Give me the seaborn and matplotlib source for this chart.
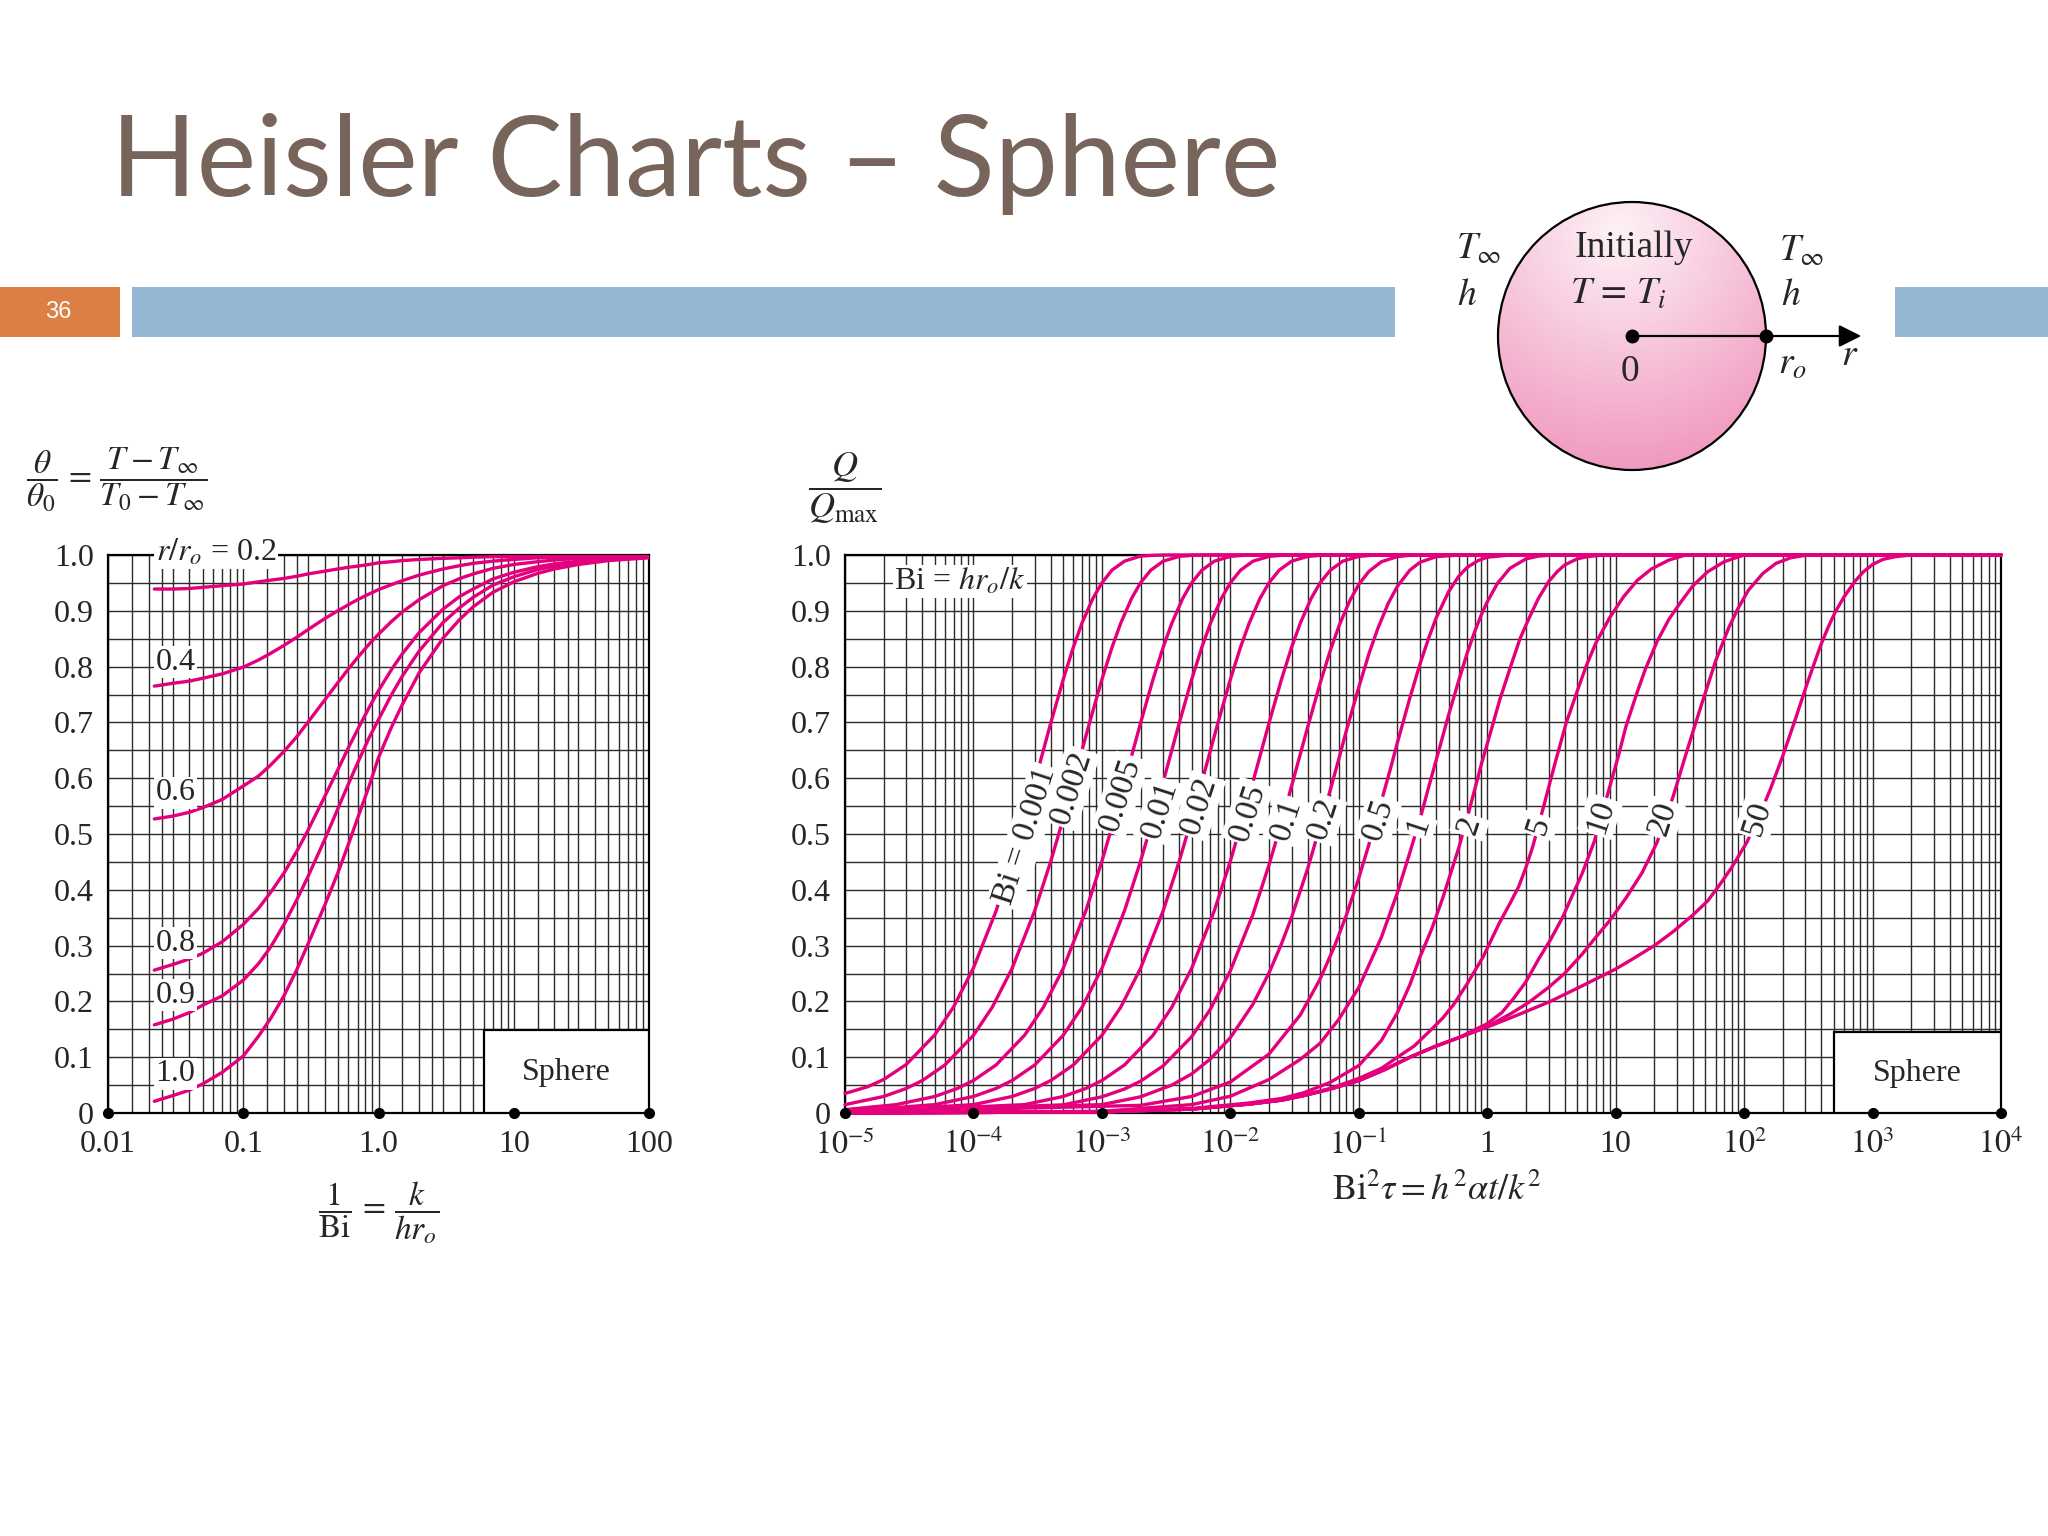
import numpy as np
import pandas as pd
import matplotlib
matplotlib.use("Agg")
import matplotlib.pyplot as plt
import matplotlib.ticker as mticker
import matplotlib.colors as mcolors
from matplotlib.patches import Rectangle, Circle
import seaborn as sns

sns.set_theme(style="white")
plt.rcParams['font.family'] = ['Liberation Serif', 'DejaVu Serif']
plt.rcParams['mathtext.fontset'] = 'stix'

MAGENTA = '#E4007C'
GRID = '#2b2b2b'

# ---- left chart: theta/theta0 vs 1/Bi, one curve per r/ro ----
inv_bi = [0.022, 0.03, 0.04, 0.05, 0.07, 0.1, 0.13, 0.16, 0.2, 0.25, 0.3, 0.4, 0.5, 0.6, 0.7,
          0.85, 1, 1.25, 1.5, 2, 3, 4, 5, 7, 10, 15, 20, 30, 50, 100]
theta_r02 = [0.939, 0.939, 0.940, 0.942, 0.945, 0.948, 0.952, 0.955, 0.958, 0.962, 0.966, 0.971, 0.975, 0.978, 0.980,
             0.983, 0.986, 0.988, 0.990, 0.992, 0.994, 0.995, 0.996, 0.997, 0.997, 0.998, 0.998, 0.998, 0.998, 0.998]
theta_r04 = [0.765, 0.770, 0.774, 0.779, 0.787, 0.799, 0.812, 0.824, 0.838, 0.853, 0.866, 0.886, 0.900, 0.911, 0.920,
             0.930, 0.938, 0.947, 0.954, 0.964, 0.975, 0.981, 0.985, 0.989, 0.992, 0.995, 0.996, 0.997, 0.998, 0.999]
theta_r06 = [0.527, 0.532, 0.539, 0.547, 0.562, 0.586, 0.604, 0.624, 0.648, 0.675, 0.700, 0.740, 0.771, 0.796, 0.816,
             0.840, 0.858, 0.881, 0.898, 0.920, 0.945, 0.958, 0.966, 0.976, 0.983, 0.988, 0.991, 0.994, 0.996, 0.998]
theta_r08 = [0.256, 0.266, 0.276, 0.286, 0.307, 0.338, 0.367, 0.396, 0.430, 0.470, 0.506, 0.567, 0.615, 0.655, 0.687,
             0.726, 0.757, 0.795, 0.823, 0.861, 0.903, 0.926, 0.939, 0.957, 0.969, 0.979, 0.984, 0.989, 0.994, 0.997]
theta_r09 = [0.158, 0.168, 0.180, 0.193, 0.210, 0.238, 0.268, 0.298, 0.338, 0.383, 0.423, 0.490, 0.545, 0.590, 0.627,
             0.672, 0.705, 0.750, 0.783, 0.828, 0.879, 0.906, 0.924, 0.946, 0.961, 0.974, 0.980, 0.987, 0.992, 0.996]
theta_r10 = [0.021, 0.031, 0.041, 0.052, 0.073, 0.102, 0.138, 0.170, 0.210, 0.258, 0.302, 0.372, 0.430, 0.482, 0.528,
             0.585, 0.637, 0.692, 0.732, 0.789, 0.851, 0.885, 0.907, 0.933, 0.952, 0.967, 0.975, 0.983, 0.990, 0.995]
r_labels = ['$r/r_o$ = 0.2', '0.4', '0.6', '0.8', '0.9', '1.0']
r_label_y = [1.005, 0.808, 0.574, 0.304, 0.211, 0.070]

# ---- right chart: Q/Qmax vs Bi^2 tau, one curve per Bi ----
q_bi_0001 = ([1e-5, 1.5e-5, 2e-5, 3e-5, 5e-5, 7e-5, 1e-4, 1.5e-4, 2e-4, 2.5e-4, 3e-4, 4e-4, 5e-4, 6e-4, 7e-4,
              8.5e-4, 1e-3, 1.2e-3, 1.5e-3, 2e-3, 2.5e-3, 3e-3, 1e4],
             [0.035, 0.047, 0.06, 0.087, 0.14, 0.19, 0.26, 0.362, 0.451, 0.528, 0.593, 0.699, 0.777, 0.835, 0.878,
              0.922, 0.95, 0.973, 0.989, 0.998, 0.9994, 1.0, 1.0])
q_bi_0002 = ([1e-5, 2e-5, 3e-5, 4e-5, 6e-5, 1e-4, 1.4e-4, 2e-4, 3e-4, 4e-4, 5e-4, 6e-4, 8e-4, 1e-3, 1.2e-3,
              1.4e-3, 1.7e-3, 2e-3, 2.4e-3, 3e-3, 4e-3, 5e-3, 6e-3, 1e4],
             [0.015, 0.0296, 0.044, 0.0582, 0.0861, 0.1393, 0.1894, 0.2592, 0.3624, 0.4512, 0.5276, 0.5934, 0.6988,
              0.7769, 0.8347, 0.8775, 0.9219, 0.9502, 0.9727, 0.9889, 0.9975, 0.9994, 1.0, 1.0])
q_bi_0005 = ([1e-5, 2.5e-5, 5e-5, 7.5e-5, 1e-4, 1.5e-4, 2.5e-4, 3.5e-4, 5e-4, 7.5e-4, 1e-3, 1.25e-3, 1.5e-3, 2e-3,
              2.5e-3, 3e-3, 3.5e-3, 4.25e-3, 5e-3, 6e-3, 7.5e-3, 1e-2, 1.25e-2, 1.5e-2, 1e4],
             [0.006, 0.015, 0.0296, 0.044, 0.0582, 0.0861, 0.1393, 0.1894, 0.2592, 0.3624, 0.4512, 0.5276, 0.5934,
              0.6988, 0.7769, 0.8347, 0.8775, 0.9219, 0.9502, 0.9727, 0.9889, 0.9975, 0.9994, 1.0, 1.0])
q_bi_001 = ([1e-5, 5e-5, 1e-4, 1.5e-4, 2e-4, 3e-4, 5e-4, 7e-4, 1e-3, 1.5e-3, 2e-3, 2.5e-3, 3e-3, 4e-3, 5e-3,
             6e-3, 7e-3, 8.5e-3, 1e-2, 1.2e-2, 1.5e-2, 2e-2, 2.5e-2, 3e-2, 1e4],
            [0.003, 0.015, 0.0296, 0.044, 0.0582, 0.0861, 0.1393, 0.1894, 0.2592, 0.3624, 0.4512, 0.5276, 0.5934,
             0.6988, 0.7769, 0.8347, 0.8775, 0.9219, 0.9502, 0.9727, 0.9889, 0.9975, 0.9994, 1.0, 1.0])
q_bi_002 = ([1e-5, 1e-4, 2e-4, 3e-4, 4e-4, 6e-4, 1e-3, 1.4e-3, 2e-3, 3e-3, 4e-3, 5e-3, 6e-3, 8e-3, 1e-2,
             1.2e-2, 1.4e-2, 1.7e-2, 2e-2, 2.4e-2, 3e-2, 4e-2, 5e-2, 6e-2, 1e4],
            [0.0015, 0.015, 0.0296, 0.044, 0.0582, 0.0861, 0.1393, 0.1894, 0.2592, 0.3624, 0.4512, 0.5276, 0.5934,
             0.6988, 0.7769, 0.8347, 0.8775, 0.9219, 0.9502, 0.9727, 0.9889, 0.9975, 0.9994, 1.0, 1.0])
q_bi_005 = ([1e-5, 2.5e-4, 5e-4, 7.5e-4, 1e-3, 1.5e-3, 2.5e-3, 3.5e-3, 5e-3, 7.5e-3, 1e-2, 1.25e-2, 1.5e-2, 2e-2,
             2.5e-2, 3e-2, 3.5e-2, 4.25e-2, 5e-2, 6e-2, 7.5e-2, 0.1, 0.125, 0.15, 1e4],
            [0.0006, 0.015, 0.0296, 0.044, 0.0582, 0.0861, 0.1393, 0.1894, 0.2592, 0.3624, 0.4512, 0.5276, 0.5934,
             0.6988, 0.7769, 0.8347, 0.8775, 0.9219, 0.9502, 0.9727, 0.9889, 0.9975, 0.9994, 1.0, 1.0])
q_bi_01 = ([1e-5, 5e-4, 1e-3, 1.5e-3, 2e-3, 3e-3, 5e-3, 7e-3, 1e-2, 1.5e-2, 2e-2, 2.5e-2, 3e-2, 4e-2, 5e-2,
            6e-2, 7e-2, 8.5e-2, 0.1, 0.12, 0.15, 0.2, 0.25, 0.3, 1e4],
           [0.0003, 0.0146, 0.029, 0.043, 0.057, 0.0845, 0.1368, 0.1862, 0.2548, 0.3561, 0.4446, 0.5205, 0.5862,
            0.6916, 0.7701, 0.8288, 0.8724, 0.9179, 0.9472, 0.9707, 0.9879, 0.9972, 0.9994, 1.0, 1.0])
q_bi_02 = ([1e-5, 1e-3, 2e-3, 3.5e-3, 5e-3, 7e-3, 1e-2, 1.5e-2, 2e-2, 2.5e-2, 3e-2, 4e-2, 5e-2, 6e-2, 7e-2,
            8e-2, 0.1, 0.12, 0.14, 0.17, 0.2, 0.25, 0.3, 0.4, 0.6, 1e4],
           [0.0008, 0.015, 0.029, 0.05, 0.07, 0.097, 0.135, 0.195, 0.251, 0.303, 0.351, 0.438, 0.514, 0.579, 0.635,
            0.685, 0.763, 0.823, 0.867, 0.914, 0.944, 0.973, 0.987, 0.997, 1.0, 1.0])
q_bi_05 = ([1e-5, 2e-3, 5e-3, 1e-2, 2e-2, 3.5e-2, 5e-2, 6.5e-2, 8e-2, 0.1, 0.125, 0.15, 0.175, 0.2, 0.25,
            0.3, 0.35, 0.4, 0.5, 0.6, 0.7, 0.85, 1.0, 1.5, 1e4],
           [0.001, 0.0137, 0.0296, 0.0556, 0.1056, 0.1756, 0.24, 0.30, 0.3545, 0.421, 0.495, 0.559, 0.614, 0.664,
            0.744, 0.805, 0.851, 0.887, 0.934, 0.962, 0.978, 0.990, 0.996, 1.0, 1.0])
q_bi_1 = ([1e-5, 1e-3, 5e-3, 1e-2, 2e-2, 3.5e-2, 5e-2, 7e-2, 0.1, 0.13, 0.15, 0.2, 0.25, 0.3, 0.35,
           0.4, 0.5, 0.6, 0.7, 0.8, 0.9, 1.0, 1.2, 1.5, 2.0, 2.5, 3.0, 4.0, 1e4],
          [0.0, 0.003, 0.015, 0.03, 0.06, 0.096, 0.125, 0.168, 0.225, 0.283, 0.315, 0.395, 0.467, 0.527, 0.584,
           0.632, 0.713, 0.775, 0.825, 0.863, 0.893, 0.916, 0.949, 0.976, 0.993, 0.998, 0.9994, 1.0, 1.0])
q_bi_2 = ([1e-5, 1e-3, 5e-3, 0.014, 0.025, 0.037, 0.06, 0.1, 0.15, 0.2, 0.25, 0.3, 0.37, 0.45, 0.52,
           0.6, 0.7, 0.8, 0.9, 1.04, 1.25, 1.52, 1.8, 2.1, 2.5, 3.0, 3.5, 4.0, 5.0, 6.0, 8.0, 1e4],
          [0.0, 0.002, 0.008, 0.018, 0.026, 0.036, 0.055, 0.085, 0.13, 0.18, 0.23, 0.28, 0.33, 0.385, 0.43,
           0.475, 0.53, 0.58, 0.625, 0.675, 0.74, 0.80, 0.85, 0.885, 0.922, 0.952, 0.97, 0.982, 0.993, 0.997, 1.0, 1.0])
q_bi_5 = ([1e-5, 1e-3, 5e-3, 0.014, 0.025, 0.037, 0.06, 0.1, 0.15, 0.2, 0.27, 0.35, 0.45, 0.55, 0.7,
           0.93, 1.1, 1.24, 1.5, 1.76, 2.0, 2.26, 2.79, 3.4, 4.12, 5.0, 5.87, 7.0, 9.0, 11.5,
           14.8, 19, 26, 35, 1e4],
          [0.0, 0.002, 0.007, 0.016, 0.023, 0.032, 0.044, 0.062, 0.08, 0.10, 0.12, 0.145, 0.17, 0.195, 0.232,
           0.28, 0.315, 0.34, 0.375, 0.406, 0.44, 0.477, 0.555, 0.63, 0.699, 0.755, 0.80, 0.842, 0.888, 0.925,
           0.955, 0.975, 0.991, 1.0, 1.0])
q_bi_10 = ([1e-5, 1e-3, 5e-3, 0.014, 0.025, 0.037, 0.06, 0.1, 0.16, 0.25, 0.4, 0.6, 1.0, 1.3, 1.6,
            2.0, 2.5, 3.1, 3.85, 4.6, 5.5, 6.8, 8.7, 10.5, 12, 14.5, 17, 21, 26, 32,
            40, 52, 70, 100, 1e4],
           [0.0, 0.002, 0.007, 0.016, 0.023, 0.031, 0.043, 0.058, 0.078, 0.10, 0.12, 0.135, 0.16, 0.18, 0.205,
            0.235, 0.275, 0.31, 0.35, 0.39, 0.43, 0.486, 0.573, 0.64, 0.692, 0.75, 0.795, 0.845, 0.885, 0.915,
            0.945, 0.97, 0.988, 1.0, 1.0])
q_bi_20 = ([1e-5, 1e-3, 5e-3, 0.014, 0.025, 0.037, 0.06, 0.1, 0.16, 0.25, 0.4, 0.6, 1.0, 1.5, 2.1,
            3.0, 4.0, 5.5, 7.0, 9.0, 12, 16, 21, 28, 36, 46, 60, 76, 90, 108,
            140, 177, 230, 310, 1e4],
           [0.0, 0.002, 0.007, 0.016, 0.023, 0.031, 0.043, 0.058, 0.078, 0.10, 0.12, 0.135, 0.155, 0.177, 0.198,
            0.225, 0.25, 0.285, 0.315, 0.345, 0.385, 0.43, 0.485, 0.567, 0.65, 0.728, 0.81, 0.87, 0.905, 0.937,
            0.967, 0.985, 0.995, 1.0, 1.0])
q_bi_50 = ([1e-5, 1e-3, 5e-3, 0.014, 0.025, 0.037, 0.06, 0.1, 0.16, 0.25, 0.4, 0.6, 1.0, 1.7, 3.1,
            5.5, 10, 14, 20, 28, 40, 52, 65, 80, 105, 130, 160, 200, 250, 310,
            390, 450, 510, 600, 730, 850, 1000, 1200, 1500, 2000, 1e4],
           [0.0, 0.002, 0.007, 0.016, 0.023, 0.031, 0.043, 0.058, 0.078, 0.10, 0.12, 0.135, 0.154, 0.175, 0.20,
            0.228, 0.258, 0.278, 0.30, 0.325, 0.355, 0.38, 0.41, 0.44, 0.485, 0.53, 0.58, 0.64, 0.705, 0.77,
            0.835, 0.87, 0.897, 0.925, 0.953, 0.97, 0.983, 0.992, 0.997, 1.0, 1.0])

bi_names = ['Bi = 0.001', '0.002', '0.005', '0.01', '0.02', '0.05', '0.1', '0.2',
            '0.5', '1', '2', '5', '10', '20', '50']
bi_label_x = [2.54e-4, 5.75e-4, 1.40e-3, 2.83e-3, 5.72e-3, 0.0136, 0.0274, 0.0528,
              0.1415, 0.286, 0.73, 2.52, 7.59, 23.3, 126]
bi_label_y = [0.496, 0.583, 0.571, 0.543, 0.55, 0.539, 0.525, 0.527,
              0.525, 0.515, 0.515, 0.515, 0.532, 0.527, 0.527]

left_ticks = [0.01, 0.1, 1, 10, 100]
left_ticklabels = ['0.01', '0.1', '1.0', '10', '100']
right_ticks = [1e-5, 1e-4, 1e-3, 1e-2, 1e-1, 1, 10, 1e2, 1e3, 1e4]
right_ticklabels = ['$10^{-5}$', '$10^{-4}$', '$10^{-3}$', '$10^{-2}$', '$10^{-1}$',
                    '1', '10', '$10^{2}$', '$10^{3}$', '$10^{4}$']
y_ticks = [0, 0.1, 0.2, 0.3, 0.4, 0.5, 0.6, 0.7, 0.8, 0.9, 1.0]
y_ticklabels = ['0', '0.1', '0.2', '0.3', '0.4', '0.5', '0.6', '0.7', '0.8', '0.9', '1.0']

W, H = 2048, 1536
fig = plt.figure(figsize=(W / 100, H / 100), dpi=100)
fig.patch.set_facecolor('white')

# ---- slide decoration in pixel coordinates ----
deco = fig.add_axes([0, 0, 1, 1])
deco.set_axis_off()

deco.text(111, 196, 'Heisler Charts \u2013 Sphere', family='Lato', fontsize=81,
          color='#77655B', va='baseline', ha='left')
deco.add_patch(Rectangle((0, 287), 120, 50, facecolor='#DC7F44', edgecolor='none'))
deco.text(45, 312, '36', family='Liberation Sans', fontsize=17, color='white', va='center', ha='left')
deco.add_patch(Rectangle((132, 287), 1263, 50, facecolor='#94B6D3', edgecolor='none'))
deco.add_patch(Rectangle((1895, 287), 153, 50, facecolor='#94B6D3', edgecolor='none'))

# sphere sketch
cx, cy, rad = 1632, 336, 134
gx = np.linspace(cx - rad, cx + rad, 300)
gy = np.linspace(cy - rad, cy + rad, 300)
xx, yy = np.meshgrid(gx, gy)
t = np.clip(np.hypot(xx - 1618, yy - 232) / 290, 0, 1)
light = np.array(mcolors.to_rgb('#FDF2F7'))
dark = np.array(mcolors.to_rgb('#EE86B4'))
img = light + (dark - light) * t[..., None]
im = deco.imshow(img, extent=(cx - rad, cx + rad, cy + rad, cy - rad), origin='upper', zorder=1)
circ = Circle((cx, cy), rad, facecolor='none', edgecolor='black', lw=1.6, zorder=2)
deco.add_patch(circ)
im.set_clip_path(circ)
deco.annotate('', xy=(1864, cy), xytext=(cx, cy),
              arrowprops=dict(arrowstyle='-|>', color='black', lw=1.6, mutation_scale=34), zorder=3)
deco.plot([cx, cx + rad], [cy, cy], 'o', color='black', ms=9, zorder=4)
deco.text(1634, 248, 'Initially', fontsize=27, ha='center', va='center')
deco.text(1618, 295, r'$T\,=\,T_i$', fontsize=27, ha='center', va='center')
deco.text(1630, 372, '0', fontsize=27, ha='center', va='center')
deco.text(1792, 365, '$r_o$', fontsize=27, ha='center', va='center')
deco.text(1850, 356, '$r$', fontsize=27, ha='center', va='center')
deco.text(1479, 250, r'$T_\infty$', fontsize=27, ha='center', va='center')
deco.text(1467, 296, '$h$', fontsize=27, ha='center', va='center')
deco.text(1802, 252, r'$T_\infty$', fontsize=27, ha='center', va='center')
deco.text(1791, 296, '$h$', fontsize=27, ha='center', va='center')

# axis titles
deco.text(26, 480, r'$\dfrac{\theta}{\theta_0}\,=\,\dfrac{T - T_\infty}{T_0 - T_\infty}$',
          fontsize=24, ha='left', va='center')
deco.text(845, 488, r'$\dfrac{Q}{Q_{\mathrm{max}}}$', fontsize=26, ha='center', va='center')
deco.text(379, 1213, r'$\dfrac{1}{\mathrm{Bi}}\,=\,\dfrac{k}{hr_o}$', fontsize=24, ha='center', va='center')
deco.text(1437, 1190, r'$\mathrm{Bi}^2\tau = h^2\alpha t/k^2$', fontsize=26, ha='center', va='center')

deco.set_aspect('auto')
deco.set_xlim(0, W)
deco.set_ylim(H, 0)

# ---- chart axes ----
bottom = 1 - 1113 / H
height = 558 / H
ax_l = fig.add_axes([108 / W, bottom, 541 / W, height])
ax_r = fig.add_axes([845 / W, bottom, 1156 / W, height])


def style_axes(ax, xmin, xmax, ticks, ticklabels, subs):
    ax.set_xscale('log')
    ax.set_xlim(xmin, xmax)
    ax.set_ylim(0, 1.0)
    ax.set_xticks(ticks, ticklabels)
    ax.xaxis.set_minor_locator(mticker.LogLocator(base=10, subs=subs, numticks=30))
    ax.xaxis.set_minor_formatter(mticker.NullFormatter())
    ax.set_yticks(y_ticks, y_ticklabels)
    ax.yaxis.set_minor_locator(mticker.MultipleLocator(0.05))
    ax.set_axisbelow(True)
    ax.grid(which='both', color=GRID, linewidth=1.0)
    ax.tick_params(which='both', length=0, labelsize=23)
    ax.tick_params(axis='x', pad=12)
    ax.tick_params(axis='y', pad=10)
    for s in ax.spines.values():
        s.set_color('black')
        s.set_linewidth(1.6)
    ax.plot(ticks, [0] * len(ticks), 'o', color='black', ms=7, clip_on=False, zorder=6)
    ax.set_xlabel('')
    ax.set_ylabel('')


# left chart curves
left_df = pd.concat([
    pd.DataFrame({'x': inv_bi, 'y': vals, 'curve': name})
    for name, vals in zip(['0.2', '0.4', '0.6', '0.8', '0.9', '1.0'],
                          [theta_r02, theta_r04, theta_r06, theta_r08, theta_r09, theta_r10])
])
ax_l.set_xscale('log')
sns.lineplot(data=left_df, x='x', y='y', hue='curve', palette=[MAGENTA] * 6, estimator=None,
             sort=False, legend=False, linewidth=2.4, ax=ax_l, zorder=3)
style_axes(ax_l, 0.01, 100, left_ticks, left_ticklabels, [1.5, 2, 2.5, 3, 4, 5, 6, 7, 8, 9])
ax_l.add_patch(Rectangle((6, 0), 94, 0.148, facecolor='white', edgecolor='black', lw=1.6, zorder=2.6))
ax_l.text(24.5, 0.072, 'Sphere', fontsize=23, ha='center', va='center', zorder=4)
for lab, ly in zip(r_labels, r_label_y):
    ax_l.text(0.0225, ly, lab, fontsize=23, ha='left', va='center', zorder=5,
              bbox=dict(boxstyle='square,pad=0.05', facecolor='white', edgecolor='none'))

# right chart curves
q_curves = [q_bi_0001, q_bi_0002, q_bi_0005, q_bi_001, q_bi_002, q_bi_005, q_bi_01, q_bi_02,
            q_bi_05, q_bi_1, q_bi_2, q_bi_5, q_bi_10, q_bi_20, q_bi_50]
right_df = pd.concat([
    pd.DataFrame({'x': cx_, 'y': cy_, 'curve': name})
    for name, (cx_, cy_) in zip(bi_names, q_curves)
])
ax_r.set_xscale('log')
sns.lineplot(data=right_df, x='x', y='y', hue='curve', palette=[MAGENTA] * len(q_curves),
             estimator=None, sort=False, legend=False, linewidth=2.4, ax=ax_r, zorder=3,
             clip_on=False)
style_axes(ax_r, 1e-5, 1e4, right_ticks, right_ticklabels, [2, 3, 4, 5, 6, 7, 8, 9])
ax_r.add_patch(Rectangle((500, 0), 1e4 - 500, 0.145, facecolor='white', edgecolor='black', lw=1.6, zorder=2.6))
ax_r.text(2240, 0.07, 'Sphere', fontsize=23, ha='center', va='center', zorder=4)
ax_r.text(7.85e-5, 0.953, 'Bi = $hr_o/k$', fontsize=23, ha='center', va='center', zorder=5,
          bbox=dict(boxstyle='square,pad=0.05', facecolor='white', edgecolor='none'))
for lab, lx, ly in zip(bi_names, bi_label_x, bi_label_y):
    ax_r.text(lx, ly, lab, fontsize=24, rotation=72, rotation_mode='anchor',
              ha='center', va='center', zorder=5,
              bbox=dict(boxstyle='square,pad=0.08', facecolor='white', edgecolor='none'))

fig.savefig('out.png', dpi=100, facecolor='white')
